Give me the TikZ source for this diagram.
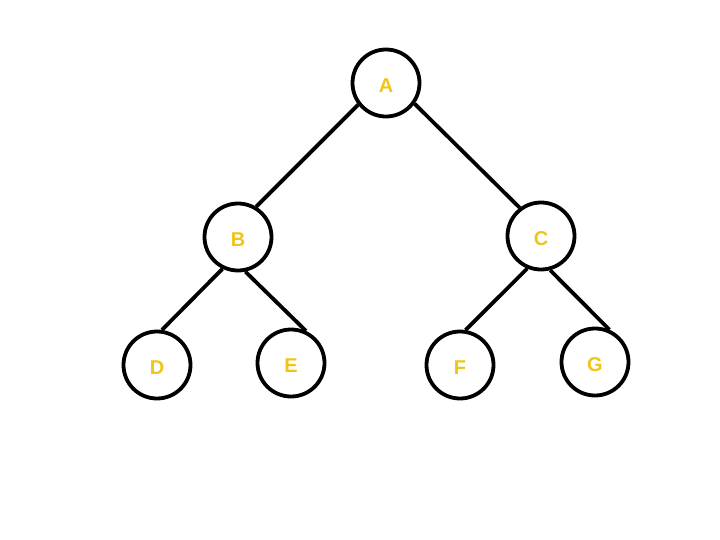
\documentclass[tikz,border=0pt]{standalone}
\usepackage{fontspec}
\newfontfamily\labelfont{Liberation Sans}
\definecolor{labelgold}{HTML}{F0C419}

\begin{document}
\begin{tikzpicture}[x=1pt,y=-1pt]

\def \radius {67pt} % circle size
\def \thick {3.8pt}

\useasboundingbox (0,0) rectangle (720,539);

\begin{scope}[every node/.style={draw,circle,minimum size=\radius,inner sep=0,line width=\thick,text=labelgold,font=\labelfont\bfseries\fontsize{20}{20}\selectfont}]
\foreach \id/\px/\py in {A/386/83, B/238/237, C/541/236, D/157/365, E/291/363, F/460/365, G/595/362}
{
  \node (\id) at (\px,\py) {\raisebox{-3pt}[\height][0pt]{\id}};
}
\end{scope}

\foreach \from/\a/\to/\b in {A/218/B/59, A/324/C/127, B/244/D/82, B/282/E/65, C/247/F/81, C/285/G/66}
{
  \draw[line width=\thick] (\from.\a) -- (\to.\b);
}

\end{tikzpicture}
\end{document}
